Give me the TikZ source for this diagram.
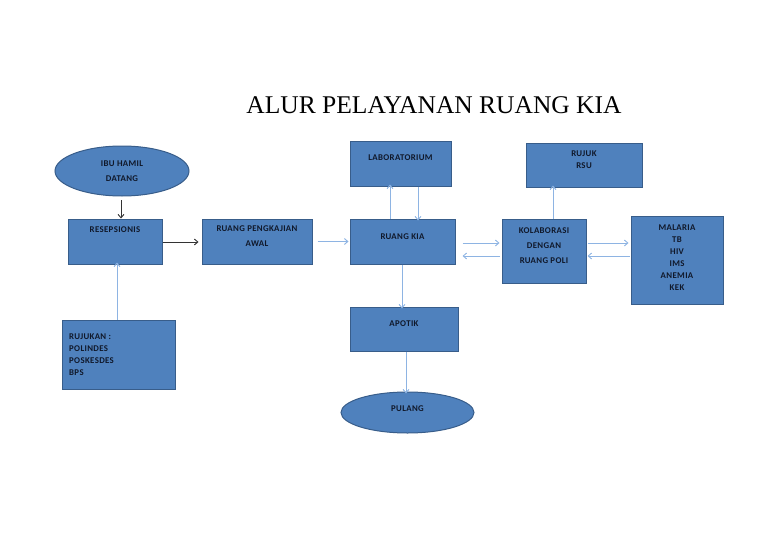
\documentclass[tikz,border=0pt]{standalone}
\usepackage{fontspec}
\setmainfont{Liberation Serif}
\newfontfamily\boxfont[LetterSpace=4]{Carlito}
\usetikzlibrary{shapes.geometric,arrows.meta}
\definecolor{boxfill}{HTML}{4F81BD}
\definecolor{boxline}{HTML}{385D8A}
\definecolor{lightarr}{HTML}{8EB4E3}
\definecolor{boxtext}{HTML}{10182A}
\tikzset{
  box/.style={draw=boxline, fill=boxfill, line width=1pt, rectangle, inner sep=0pt},
  oval/.style={draw=boxline, fill=boxfill, line width=1pt, ellipse, inner sep=0pt},
  txt/.style={font=\boxfont\bfseries\fontsize{8.8}{15}\selectfont, text=boxtext, align=center, inner sep=0pt},
  tighttxt/.style={txt, font=\boxfont\bfseries\fontsize{8.8}{12}\selectfont},
  larr/.style={draw=lightarr, line width=0.9pt, -{Straight Barb[length=3.5pt,width=6pt]}},
  darr/.style={draw=black!80, line width=0.9pt, -{Straight Barb[length=3.5pt,width=6pt]}}
}
\begin{document}
\begin{tikzpicture}[x=1pt,y=-1pt]
\useasboundingbox (0,0) rectangle (768,543);
\node[font=\fontsize{25.5}{28}\selectfont, inner sep=0pt] (title) at (434,105) {ALUR PELAYANAN RUANG KIA};

% shapes
\node[oval, minimum width=134, minimum height=50] (ibu) at (122,171) {};
\node[txt] (ibu-t) at (122,171) {IBU HAMIL\\DATANG};

\node[box, minimum width=94, minimum height=45] (res) at (115,241.5) {};
\node[txt] (res-t) at (115,229.5) {RESEPSIONIS};

\node[box, minimum width=110, minimum height=45] (awal) at (257,241.5) {};
\node[txt] (awal-t) at (257,236.5) {RUANG PENGKAJIAN\\AWAL};

\node[box, minimum width=101, minimum height=45] (lab) at (400.5,163.5) {};
\node[txt] (lab-t) at (400.5,157.5) {LABORATORIUM};

\node[box, minimum width=105, minimum height=45] (kia) at (402.5,241.5) {};
\node[txt] (kia-t) at (402.5,237) {RUANG KIA};

\node[box, minimum width=116, minimum height=44] (rsu) at (584,165) {};
\node[tighttxt] (rsu-t) at (584,159.5) {RUJUK\\RSU};

\node[box, minimum width=84, minimum height=64] (kol) at (544,251) {};
\node[txt] (kol-t) at (544,246) {KOLABORASI\\DENGAN\\RUANG POLI};

\node[box, minimum width=92, minimum height=88] (mal) at (677,260) {};
\node[tighttxt] (mal-t) at (677,258) {MALARIA\\TB\\HIV\\IMS\\ANEMIA\\KEK};

\node[box, minimum width=113, minimum height=69] (ruj) at (118.5,354.5) {};
\node[tighttxt, align=left, anchor=west] (ruj-t) at (69,355) {RUJUKAN :\\POLINDES\\POSKESDES\\BPS};

\node[box, minimum width=108, minimum height=44] (apo) at (404,329) {};
\node[txt] (apo-t) at (404,323.5) {APOTIK};

\node[oval, minimum width=133, minimum height=41] (pul) at (407.5,412.5) {};
\node[txt] (pul-t) at (407.5,409) {PULANG};

% connectors
\coordinate (c1) at (121,200);
\draw[darr] (c1) -- (c1 |- res.north) ;
\draw[darr] (res.east |- 0,242) -- ([xshift=-3]awal.west |- 0,242);
\draw[larr] (117,0 |- ruj.north) -- ([yshift=2]117,0 |- res.south);
\draw[larr] ([xshift=5]awal.east) -- ([xshift=-1]kia.west);
\draw[larr] (390,0 |- kia.north) -- ([yshift=2]390,0 |- lab.south);
\draw[larr] (418,0 |- lab.south) -- ([yshift=-2]418,0 |- kia.north);
\draw[larr] ([xshift=7]kia.east |- 0,243) -- ([xshift=-2]kol.west |- 0,243);
\draw[larr] ([xshift=-2]kol.west |- 0,256) -- ([xshift=7]kia.east |- 0,256);
\draw[larr] (553,0 |- kol.north) -- ([yshift=2]553,0 |- rsu.south);
\draw[larr] ([xshift=1]kol.east |- 0,243) -- ([xshift=-2]mal.west |- 0,243);
\draw[larr] ([xshift=-1]mal.west |- 0,256) -- ([xshift=1]kol.east |- 0,256);
\draw[larr] (402,0 |- kia.south) -- ([yshift=-2]402,0 |- apo.north);
\draw[larr] (406,0 |- apo.south) -- ([yshift=-2]406,0 |- pul.north);
\end{tikzpicture}
\end{document}
